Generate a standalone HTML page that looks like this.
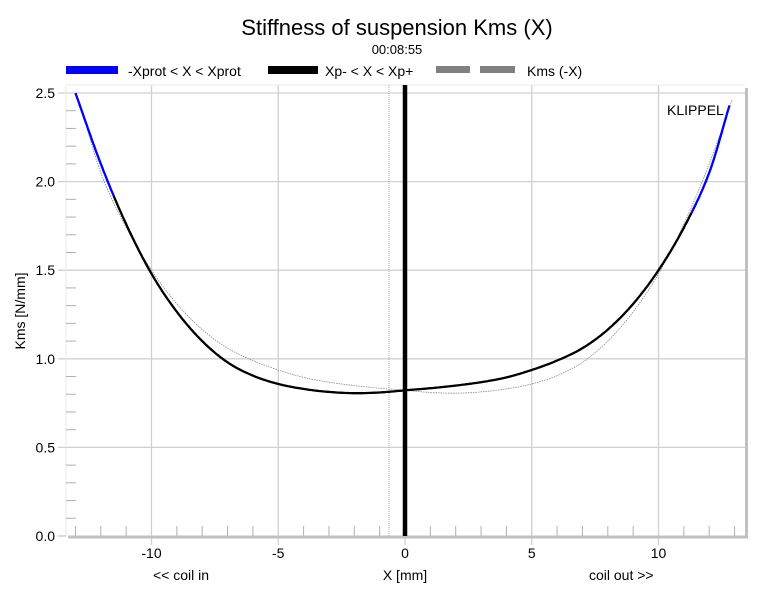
<!DOCTYPE html>
<html><head><meta charset="utf-8"><style>
body{margin:0;background:#fff;}
svg{display:block;font-family:"Liberation Sans",Arial,sans-serif;}
</style></head><body>
<svg id="s" width="765" height="594" viewBox="0 0 765 594" xmlns="http://www.w3.org/2000/svg">
<text x="397" y="35" font-size="22" text-anchor="middle">Stiffness of suspension Kms (X)</text>
<text x="397" y="54" font-size="13" text-anchor="middle">00:08:55</text>
<rect x="66" y="66" width="52" height="8" fill="#0000ff"/>
<text x="128" y="76" font-size="14">-Xprot &lt; X &lt; Xprot</text>
<rect x="268" y="66" width="50" height="8" fill="#000"/>
<text x="325" y="76" font-size="14">Xp- &lt; X &lt; Xp+</text>
<rect x="436" y="66" width="34" height="7" fill="#808080"/>
<rect x="480" y="66" width="35" height="7" fill="#808080"/>
<text x="527" y="76" font-size="14">Kms (-X)</text>
<g id="grid" stroke="#d0d0d0" stroke-width="1.3"></g>
<line x1="66" y1="85" x2="745" y2="85" stroke="#e8e8e8"/>
<line x1="66" y1="85" x2="66" y2="536" stroke="#e8e8e8"/>
<line x1="68" y1="537" x2="748" y2="537" stroke="#c0c0c0" stroke-width="3"/>
<line x1="746.5" y1="88" x2="746.5" y2="537" stroke="#c0c0c0" stroke-width="3"/>
<g id="ticks" stroke="#b0b0b0" stroke-width="1"></g>
<line x1="389" y1="85" x2="389" y2="536" stroke="#999" stroke-width="0.8" stroke-dasharray="1,1"/>
<path id="mir" fill="none" stroke="#888" stroke-width="0.8" stroke-dasharray="1.5,1"/>
<path id="b1" fill="none" stroke="#0000ff" stroke-width="2.3"/>
<path id="b2" fill="none" stroke="#0000ff" stroke-width="2.3"/>
<path id="k" fill="none" stroke="#000" stroke-width="2.3"/>
<line x1="405" y1="85" x2="405" y2="536" stroke="#000" stroke-width="4.5"/>
<text x="667" y="115" font-size="14">KLIPPEL</text>
<g id="lab" font-size="14"></g>
<text x="153" y="580" font-size="14">&lt;&lt; coil in</text>
<text x="405" y="580" font-size="14" text-anchor="middle">X [mm]</text>
<text x="589" y="580" font-size="14">coil out &gt;&gt;</text>
<text transform="translate(25,311) rotate(-90)" font-size="14" text-anchor="middle">Kms [N/mm]</text>
</svg>
<script>
var NS="http://www.w3.org/2000/svg";
function X(v){return 405+v*25.35;}function Y(v){return 536-v*177.2;}
function el(p,t,a,tx){var e=document.createElementNS(NS,t);for(var k in a)e.setAttribute(k,a[k]);if(tx!=null)e.textContent=tx;document.getElementById(p).appendChild(e);}
[-10,-5,0,5,10].forEach(function(v){el("grid","line",{x1:X(v),y1:85,x2:X(v),y2:545});el("lab","text",{x:X(v),y:558,"text-anchor":"middle"},v);});
[0.5,1,1.5,2,2.5].forEach(function(v){el("grid","line",{x1:58,y1:Y(v),x2:745,y2:Y(v)});});
[0,0.5,1,1.5,2,2.5].forEach(function(v){el("lab","text",{x:55,y:Y(v)+5,"text-anchor":"end"},v.toFixed(1));});
el("ticks","line",{x1:58,y1:536,x2:66,y2:536});
for(var i=1;i<25;i++){if(i%5)el("ticks","line",{x1:66,y1:Y(i/10),x2:76,y2:Y(i/10)});}
for(var i=-13;i<=13;i++){if(i%5)el("ticks","line",{x1:X(i),y1:536,x2:X(i),y2:526});}
var P=[[-13.2,2.58],[-13,2.5],[-12,2.1],[-11,1.76],[-10,1.48],[-9,1.265],[-8,1.10],[-7,0.98],[-6,0.905],[-5,0.858],[-4,0.83],[-3,0.813],[-2,0.806],[-1,0.81],[0,0.822],[1,0.834],[2,0.849],[3,0.868],[4,0.895],[5,0.937],[6,0.99],[7,1.06],[8,1.165],[9,1.31],[10,1.5],[11,1.74],[12,2.05],[12.8,2.43],[13,2.53]];
function K(x){for(var i=1;i<P.length-2;i++){if(x<=P[i+1][0]){var p0=P[i-1],p1=P[i],p2=P[i+1],p3=P[i+2];var t=(x-p1[0])/(p2[0]-p1[0]);
var h=p2[0]-p1[0];var m1=(p2[1]-p0[1])/(p2[0]-p0[0])*h,m2=(p3[1]-p1[1])/(p3[0]-p1[0])*h;
var t2=t*t,t3=t2*t;return (2*t3-3*t2+1)*p1[1]+(t3-2*t2+t)*m1+(-2*t3+3*t2)*p2[1]+(t3-t2)*m2;}}return P[P.length-2][1];}
function path(a,b,f){var d="";for(var x=a;x<=b+1e-9;x+=0.05){d+=(d?"L":"M")+X(x).toFixed(1)+","+Y(f(x)).toFixed(1);}return d;}
document.getElementById("k").setAttribute("d",path(-11.5,11.3,K));
document.getElementById("b1").setAttribute("d",path(-13,-11.5,K));
document.getElementById("b2").setAttribute("d",path(11.3,12.8,K));
document.getElementById("mir").setAttribute("d",path(-12.9,12.9,function(x){return K(-x);}));
</script>
</body></html>
